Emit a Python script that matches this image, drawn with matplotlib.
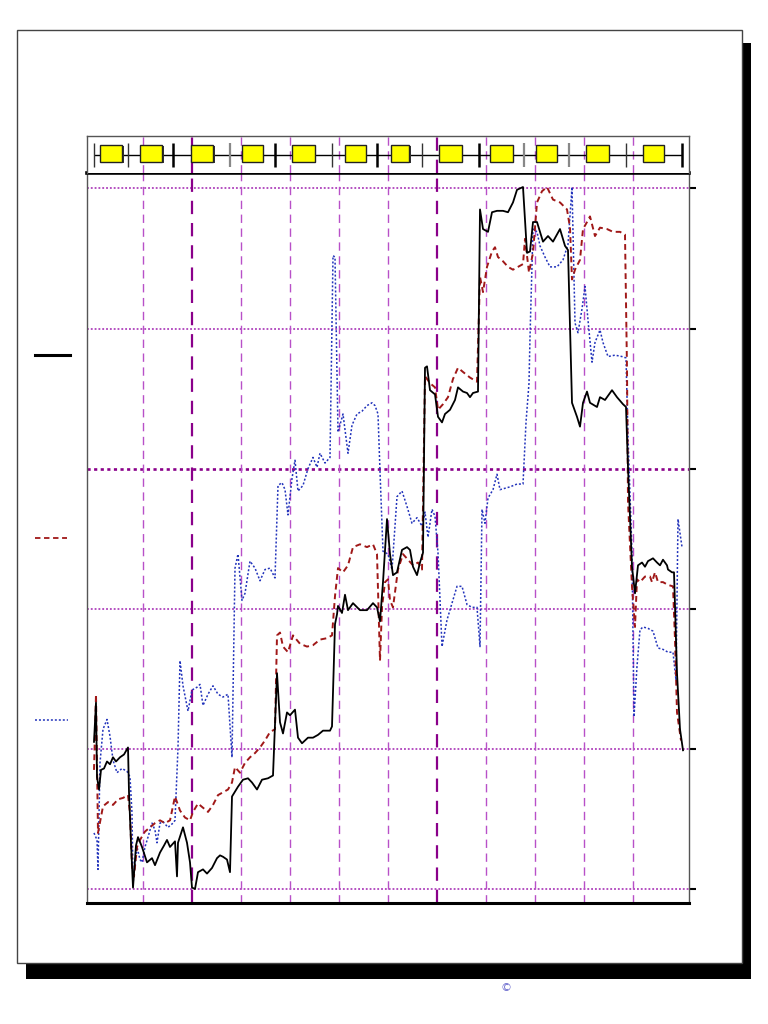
import matplotlib
matplotlib.use("Agg")
import matplotlib.pyplot as plt
from matplotlib.lines import Line2D
from matplotlib.patches import Rectangle

# x in trading days from the first observation, values as index levels
black_x = [0, 2, 3, 5, 7, 10, 13, 16, 19, 22,
           26, 30, 34, 35, 37, 39, 42, 44, 48, 53,
           58, 61, 66, 70, 73, 76, 81, 83, 84, 89,
           93, 96, 98, 101, 104, 109, 113, 118, 123, 126,
           129, 133, 136, 138, 144, 149, 154, 158, 163, 168,
           174, 179, 183, 186, 189, 193, 196, 201, 204, 208,
           214, 219, 224, 229, 236, 238, 241, 243, 244, 248,
           251, 254, 259, 266, 273, 279, 283, 286, 289, 293,
           296, 299, 303, 308, 313, 316, 319, 323, 326, 329,
           331, 333, 336, 341, 344, 348, 351, 356, 361, 364,
           369, 373, 376, 379, 384, 386, 389, 394, 398, 403,
           409, 414, 419, 423, 429, 433, 436, 439, 443, 449,
           454, 459, 466, 471, 474, 478, 483, 486, 489, 493,
           496, 503, 506, 511, 518, 523, 529, 532, 534, 538,
           541, 544, 548, 551, 554, 559, 563, 566, 569, 573,
           574, 578, 580, 583, 586, 589]
black_v = [105, 133, 80, 71, 85, 86, 91, 89, 94, 91,
           94, 96, 101, 69, 33, 1, 31, 37, 30, 19,
           22, 17, 26, 31, 35, 30, 34, 9, 33, 44,
           33, 19, 1, 0, 12, 14, 11, 15, 22, 24,
           23, 21, 12, 66, 73, 78, 79, 76, 71, 78,
           79, 81, 154, 119, 111, 126, 124, 128, 108, 104,
           108, 108, 110, 113, 113, 116, 189, 196, 202, 197,
           210, 199, 204, 199, 199, 204, 201, 191, 219, 264,
           239, 224, 226, 242, 244, 242, 230, 224, 233, 240,
           372, 373, 356, 353, 337, 333, 339, 342, 349, 358,
           355, 354, 351, 354, 355, 485, 471, 469, 483, 484,
           484, 483, 490, 499, 501, 454, 455, 476, 476, 462,
           466, 462, 471, 459, 456, 347, 337, 330, 347, 355,
           347, 344, 351, 349, 356, 351, 346, 344, 301, 230,
           211, 231, 233, 230, 234, 236, 233, 231, 235, 231,
           228, 226, 226, 154, 114, 99]

red_x = [0, 2, 4, 9, 14, 19, 24, 29, 34, 36,
         38, 40, 43, 46, 51, 56, 61, 66, 71, 76,
         81, 86, 91, 96, 99, 104, 109, 114, 119, 124,
         129, 134, 138, 141, 146, 151, 156, 161, 166, 171,
         176, 181, 183, 186, 189, 194, 199, 206, 213, 219,
         226, 233, 238, 241, 244, 249, 254, 259, 266, 273,
         279, 283, 286, 288, 291, 294, 296, 299, 304, 309,
         314, 319, 324, 328, 331, 336, 341, 344, 349, 354,
         359, 364, 369, 376, 383, 386, 389, 393, 398, 401,
         404, 409, 414, 419, 424, 429, 431, 435, 439, 443,
         448, 453, 459, 466, 473, 476, 478, 481, 486, 489,
         493, 496, 501, 506, 513, 519, 526, 531, 533, 534,
         538, 541, 543, 546, 551, 556, 558, 561, 564, 569,
         574, 579, 581, 583, 587]
red_v = [85, 139, 40, 59, 62, 60, 64, 65, 67, 54,
         16, 9, 30, 35, 41, 44, 47, 49, 47, 49,
         66, 56, 51, 49, 55, 61, 58, 55, 60, 67,
         69, 71, 76, 87, 83, 90, 94, 97, 101, 106,
         112, 114, 181, 183, 173, 169, 181, 175, 173, 174,
         178, 179, 181, 209, 229, 226, 231, 244, 246, 244,
         246, 239, 163, 201, 219, 221, 206, 201, 228, 239,
         235, 231, 233, 228, 366, 361, 358, 342, 346, 351,
         364, 372, 369, 365, 362, 437, 426, 444, 455, 458,
         451, 448, 444, 442, 444, 446, 464, 440, 454, 490,
         498, 501, 492, 490, 485, 472, 435, 442, 449, 471,
         476, 480, 466, 472, 471, 469, 469, 467, 371, 276,
         216, 187, 221, 219, 223, 223, 219, 226, 219, 219,
         217, 216, 178, 126, 106]

blue_x = [0, 3, 4, 6, 9, 13, 16, 19, 23, 28,
          33, 36, 38, 39, 43, 46, 48, 51, 54, 58,
          61, 63, 66, 69, 74, 79, 81, 84, 86, 89,
          94, 98, 103, 106, 109, 114, 119, 124, 129, 134,
          138, 141, 144, 148, 151, 156, 161, 166, 171, 176,
          181, 184, 188, 191, 194, 198, 201, 204, 209, 214,
          219, 223, 226, 231, 236, 239, 241, 244, 249, 254,
          258, 263, 268, 273, 278, 281, 284, 286, 289, 294,
          298, 303, 308, 313, 318, 323, 328, 331, 334, 338,
          341, 344, 348, 353, 358, 363, 368, 373, 378, 383,
          386, 388, 391, 394, 399, 403, 406, 411, 416, 423,
          429, 432, 435, 436, 439, 443, 446, 451, 456, 463,
          469, 474, 478, 481, 484, 488, 491, 494, 498, 501,
          506, 509, 514, 521, 528, 532, 534, 538, 540, 543,
          546, 549, 554, 559, 564, 569, 574, 579, 582, 584,
          588]
blue_v = [40, 35, 14, 90, 114, 121, 109, 92, 83, 86,
          84, 80, 54, 4, 30, 21, 19, 30, 37, 47,
          42, 33, 47, 48, 44, 47, 49, 101, 163, 145,
          127, 142, 144, 146, 131, 139, 145, 139, 137, 139,
          94, 229, 239, 206, 211, 234, 229, 220, 228, 229,
          222, 288, 290, 285, 267, 293, 306, 284, 288, 300,
          308, 301, 311, 304, 308, 452, 451, 326, 339, 311,
          331, 339, 341, 345, 347, 345, 339, 298, 241, 239,
          228, 280, 284, 273, 261, 265, 259, 269, 251, 271,
          266, 240, 173, 192, 204, 216, 216, 203, 201, 201,
          173, 271, 261, 279, 285, 296, 285, 286, 287, 289,
          289, 333, 361, 394, 471, 469, 459, 451, 444, 444,
          449, 460, 501, 404, 397, 414, 430, 406, 376, 390,
          399, 390, 380, 381, 380, 379, 323, 240, 123, 159,
          185, 187, 186, 184, 172, 171, 169, 169, 149, 264,
          244]

# grid and timeline strip
grid_levels = [0, 100, 200, 300, 400, 500]
grid_days = [49, 98, 147, 196, 245, 294, 343, 392, 441, 490, 539]
major_days = [98, 343]
strip_ticks = [0, 34, 79, 136, 181, 238, 283, 328, 385, 430, 475, 532, 588]
strip_tick_kind = ["thin", "thin", "thick", "gray", "thick", "thin", "thick",
                   "thin", "thick", "gray", "gray", "thin", "thick"]
box_centers = [17, 57, 108, 158, 209, 261, 306, 356, 407, 452, 503, 559]
box_widths = [22, 22, 22, 21, 23, 21, 18, 23, 23, 21, 23, 21]

W, H = 768, 1024
fig = plt.figure(figsize=(W / 100, H / 100), dpi=100)


def fx(px):
    return px / W


def fy(py):
    return 1 - py / H


# page box with drop shadow, kept behind the axes
fig.add_artist(Rectangle((fx(26), fy(979)), fx(751) - fx(26), fy(43) - fy(979),
                         transform=fig.transFigure, facecolor="black", edgecolor="none",
                         zorder=-3))
fig.add_artist(Rectangle((fx(17), fy(963)), fx(742) - fx(17), fy(30) - fy(963),
                         transform=fig.transFigure, facecolor="white", edgecolor="#444444",
                         lw=1, zorder=-2))

ax = fig.add_axes([fx(87), fy(903), fx(689) - fx(87), fy(173) - fy(903)])
ax_top = fig.add_axes([fx(87), fy(173), fx(689) - fx(87), fy(136) - fy(173)], sharex=ax)

for lv in grid_levels:
    ax.axhline(lv, color="#8a008a" if lv == 300 else "#a020b0",
               lw=1.9 if lv == 300 else 1.1, ls=(0, (1.2, 1.3)), zorder=1)
for d in grid_days:
    major = d in major_days
    for a in (ax, ax_top):
        a.axvline(d, color="#8a008a" if major else "#b850c8",
                  lw=1.6 if major else 1.0, ls=(0, (6, 4)), zorder=1)

ax.plot(blue_x, blue_v, color="#2233bb", lw=1.1, ls=(0, (1.3, 1.3)), zorder=3)
ax.plot(red_x, red_v, color="#a01818", lw=1.4, ls=(0, (3, 2)), zorder=4)
ax.plot(black_x, black_v, color="black", lw=1.3, zorder=5)

ax.set_xlim(-7, 595)
ax.set_ylim(-10, 511)
ax.yaxis.tick_right()
ax.set_yticks(grid_levels)
ax.set_yticklabels([])
ax.tick_params(axis="y", direction="out", length=5, width=1.5, color="black")
ax.tick_params(axis="x", length=0, labelbottom=False)
for side in ("left", "right"):
    ax.spines[side].set_color("#555555")
    ax.spines[side].set_linewidth(1)
ax.spines["top"].set_color("black")
ax.spines["top"].set_linewidth(2.6)
ax.spines["bottom"].set_color("black")
ax.spines["bottom"].set_linewidth(2.2)

# timeline strip above the chart
ax_top.set_ylim(0, 1)
ax_top.hlines(0.49, 0, 588, color="black", lw=1, zorder=2)
kind_style = {"thin": ("#333333", 1.0), "thick": ("black", 1.8), "gray": ("#888888", 1.6)}
for d, kind in zip(strip_ticks, strip_tick_kind):
    c, w = kind_style[kind]
    ax_top.vlines(d, 0.16, 0.81, color=c, lw=w, zorder=3)
ax_top.bar([c + 1.5 for c in box_centers], 0.46, width=box_widths, bottom=0.26,
           color="#333333", zorder=4)
ax_top.bar(box_centers, 0.46, width=box_widths, bottom=0.30,
           color="#ffff00", edgecolor="#222222", lw=1.0, zorder=5)
ax_top.set_yticks([])
ax_top.tick_params(axis="x", length=0, labelbottom=False)
for side in ("left", "right", "top"):
    ax_top.spines[side].set_color("#555555")
    ax_top.spines[side].set_linewidth(1)
ax_top.spines["bottom"].set_visible(False)

# legend samples on the left
fig.add_artist(Line2D([fx(35), fx(70)], [fy(355), fy(355)], color="black", lw=2.2,
                      transform=fig.transFigure))
fig.add_artist(Line2D([fx(35), fx(67)], [fy(538), fy(538)], color="#a01818", lw=1.3,
                      ls=(0, (3, 2)), transform=fig.transFigure))
fig.add_artist(Line2D([fx(35), fx(68)], [fy(720), fy(720)], color="#2233bb", lw=1.1,
                      ls=(0, (1.3, 1.3)), transform=fig.transFigure))

fig.text(fx(506), fy(988), "\u00a9", color="#6666cc", fontsize=8, ha="center", va="center")

fig.savefig("out.png", dpi=100)
plt.close(fig)
